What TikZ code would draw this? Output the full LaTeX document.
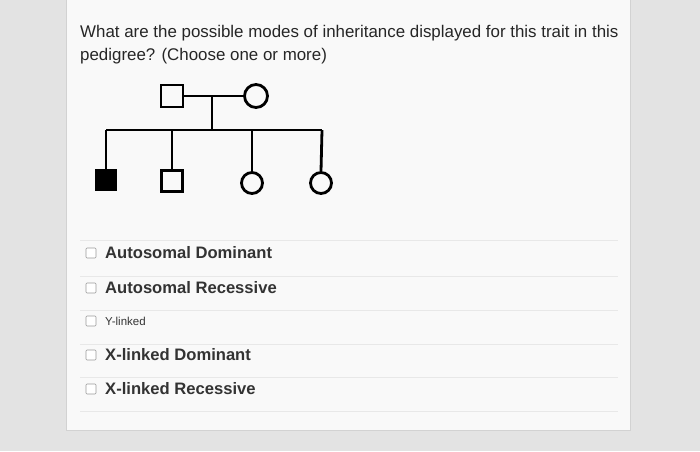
\documentclass[tikz,border=0pt]{standalone}
\usepackage{fontspec}
\setmainfont{Liberation Sans}
\begin{document}
\begin{tikzpicture}[x=1pt,y=-1pt,
  ped/.style={draw=black,line width=2.8pt},
  pl/.style={black,line width=2.8pt},
  cb/.style={draw=gray!80,fill=white,line width=0.6pt,rounded corners=1pt,minimum size=10pt,inner sep=0pt},
  opt/.style={anchor=west,font=\fontsize{16.6}{19}\selectfont\bfseries,text=black!80,inner sep=0pt},
  sep/.style={draw=gray!18,line width=0.8pt},
  q/.style={anchor=west,font=\fontsize{16.9}{19}\selectfont,text=black!85,inner sep=0pt}]
\useasboundingbox (0,0) rectangle (700,451);
\fill[gray!22] (0,0) rectangle (700,451);
\fill[gray!5,draw=gray!35] (66,-2) rectangle (630,430);
\node[q] (q1) at (80,33) {What are the possible modes of inheritance displayed for this trait in this};
\node[q] (q2) at (80,56) {pedigree? (Choose one or more)};
% pedigree
\node[ped,minimum size=22pt,inner sep=0pt] (f) at (172,96) {};
\node[ped,circle,minimum size=23pt,inner sep=0pt] (m) at (256,96) {};
\draw[pl] (f.east) -- (m.west);
\coordinate (mid) at (212,96);
\coordinate (sib) at (212,130);
\draw[pl] (mid) -- (sib);
\coordinate (sl) at (106,130);
\coordinate (sr) at (322,130);
\draw[pl] (sl) -- (sr);
\node[ped,fill=black,minimum size=20pt,inner sep=0pt] (c1) at (106,180) {};
\node[ped,minimum size=21pt,inner sep=0pt] (c2) at (172,181) {};
\node[ped,circle,minimum size=21pt,inner sep=0pt] (c3) at (252,183) {};
\node[ped,circle,minimum size=21pt,inner sep=0pt] (c4) at (321,183) {};
\draw[pl] (sl) -- (c1.north);
\draw[pl] (172,130) -- (c2.north);
\draw[pl] (252,130) -- (c3.north);
\draw[pl] (sr) -- (c4.north);
% separators
\foreach \y in {240,276,310,344,377,411} \draw[sep] (80,\y) -- (618,\y);
% options
\node[cb] (b1) at (91,253) {};
\node[opt] (o1) at (105,253) {Autosomal Dominant};
\node[cb] (b2) at (91,288) {};
\node[opt] (o2) at (105,288) {Autosomal Recessive};
\node[cb] (b3) at (91,321) {};
\node[anchor=west,font=\fontsize{11.5}{13}\selectfont,text=black!80,inner sep=0pt] (o3) at (105,321) {Y-linked};
\node[cb] (b4) at (91,355) {};
\node[opt] (o4) at (105,355) {X-linked Dominant};
\node[cb] (b5) at (91,389) {};
\node[opt] (o5) at (105,389) {X-linked Recessive};
\end{tikzpicture}
\end{document}
